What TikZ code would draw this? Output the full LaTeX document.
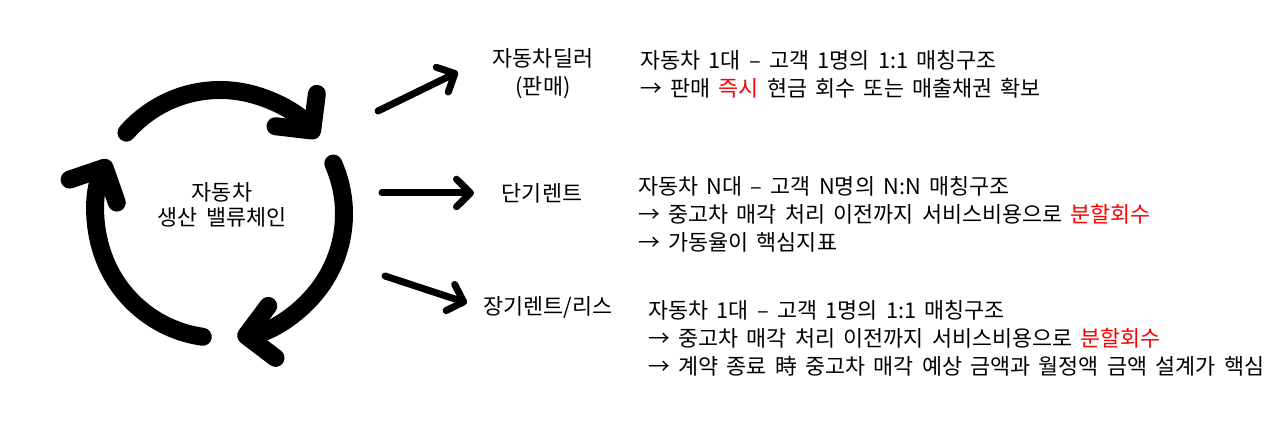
\documentclass[tikz,border=0pt]{standalone}
\usepackage{fontspec}
\setmainfont[WordSpace=1.7]{Noto Sans CJK KR}
\usetikzlibrary{arrows.meta,positioning}
\begin{document}
\begin{tikzpicture}[x=0.02cm, y=0.02cm, font=\fontsize{12.4}{15.9}\selectfont,
  cyc/.style = {line width=0.36cm, line cap=round, -{Straight Barb[length=0.52cm, width=1.05cm, round]}},
  side/.style = {line width=0.14cm, line cap=round, -{Straight Barb[length=0.28cm, width=0.55cm, round]}},
  lbl/.style = {align=center, inner sep=0pt},
  desc/.style = {align=left, anchor=west, inner sep=0pt}]
\useasboundingbox (0,0) rectangle (1280,425);
\coordinate (hub) at (220,211);
\node[lbl, font=\fontsize{12.4}{14.2}\selectfont] (chain) at (222,220) {자동차\\생산 밸류체인};
\draw[cyc] (hub) ++(139:124) arc[start angle=139, end angle=38, radius=124];
\draw[cyc] (hub) ++(24:124) arc[start angle=24, end angle=-82, radius=124];
\draw[cyc] (hub) ++(-98:124) arc[start angle=-98, end angle=-206, radius=124];
\node[lbl] (dealer) at (543,351) {자동차딜러\\(판매)};
\node[lbl] (short) at (542,232) {단기렌트};
\node[lbl, anchor=west] (long) at (483,118) {장기렌트/리스};
\node[desc] (d1) at (640,351) {자동차 1대 – 고객 1명의 1:1 매칭구조\\→ 판매 \textcolor{red}{즉시} 현금 회수 또는 매출채권 확보};
\node[desc] (d2) at (638,211) {자동차 N대 – 고객 N명의 N:N 매칭구조\\→ 중고차 매각 처리 이전까지 서비스비용으로 \textcolor{red}{분할회수}\\→ 가동율이 핵심지표};
\node[desc] (d3) at (648,87) {자동차 1대 – 고객 1명의 1:1 매칭구조\\→ 중고차 매각 처리 이전까지 서비스비용으로 \textcolor{red}{분할회수}\\→ 계약 종료 時 중고차 매각 예상 금액과 월정액 금액 설계가 핵심};
\coordinate (s1) at (378,314);
\coordinate (e1) at (458,353);
\coordinate (s2) at (382,232);
\coordinate (e2) at (474,232);
\coordinate (s3) at (385,149);
\coordinate (e3) at (467,122);
\draw[side] (s1) -- (e1);
\draw[side] (s2) -- (e2);
\draw[side] (s3) -- (e3);
\end{tikzpicture}
\end{document}
